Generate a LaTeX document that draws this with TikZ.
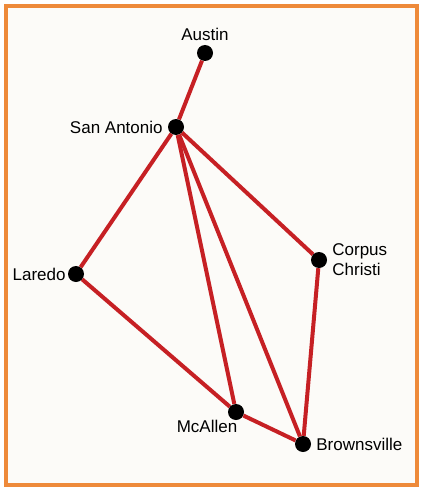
\documentclass[tikz,border=0pt]{standalone}
\usepackage{fontspec}
\setmainfont{Liberation Sans}
\definecolor{roadred}{RGB}{198,32,36}
\definecolor{frameorange}{RGB}{238,138,58}
\definecolor{paper}{RGB}{252,251,248}

\begin{document}
\begin{tikzpicture}[x=1pt, y=-1pt,
		city/.style={circle, fill=black, inner sep=0pt, minimum size=16pt},
		road/.style={draw=roadred, line width=4pt},
		every label/.style={inner sep=1pt, font=\fontsize{17}{20}\selectfont}]
		\useasboundingbox (0, 0) rectangle (424, 492);
		\fill[paper] (6, 6) rectangle (417, 485);
		\draw[frameorange, line width=3.5pt] (6, 6) rectangle (417, 485);

		\node[city, label={[label distance=3pt]above:Austin}] (austin) at (205, 53) {};
		\node[city, label={[label distance=4pt]left:San Antonio}] (sanantonio) at (176, 127) {};
		\node[city, label={[label distance=1pt]left:Laredo}] (laredo) at (76, 274) {};
		\node[city, label={[label distance=4pt, align=left]right:Corpus\\Christi}] (corpus) at (319, 260) {};
		\node[city, label={[label distance=-1pt, xshift=-29pt]below:McAllen}] (mcallen) at (236, 412) {};
		\node[city, label={[label distance=4pt]right:Brownsville}] (brownsville) at (303, 444) {};

		\draw[road] (austin) -- (sanantonio);
		\draw[road] (sanantonio) -- (laredo);
		\draw[road] (sanantonio) -- (corpus);
		\draw[road] (sanantonio) -- (mcallen);
		\draw[road] (sanantonio) -- (brownsville);
		\draw[road] (laredo) -- (mcallen);
		\draw[road] (mcallen) -- (brownsville);
		\draw[road] (corpus) -- (brownsville);
	\end{tikzpicture}
\end{document}
